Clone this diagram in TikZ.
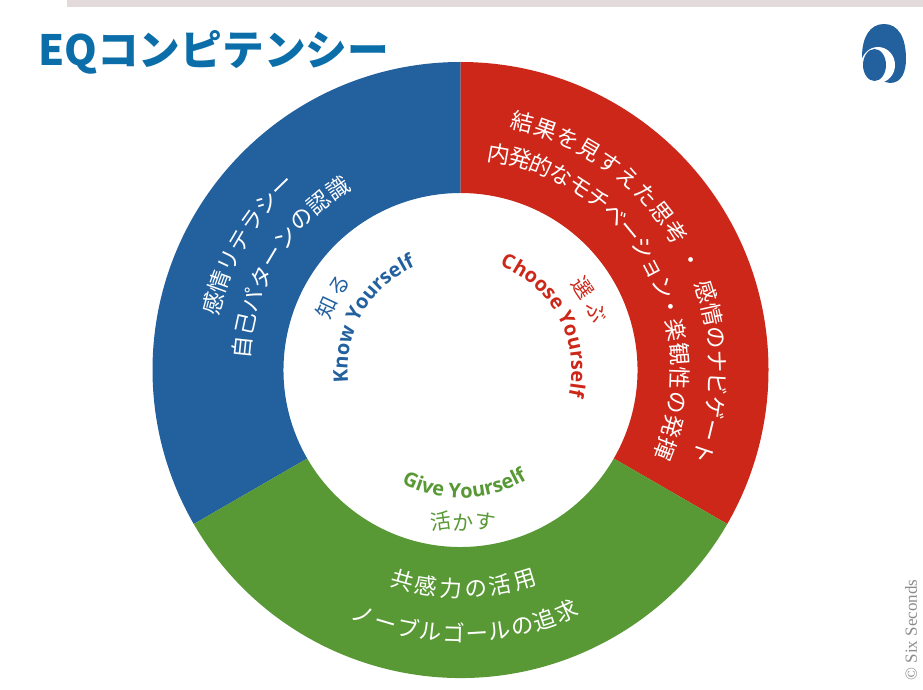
\documentclass[tikz,border=0pt]{standalone}
\usepackage{fontspec}
\usetikzlibrary{decorations.text}
\newfontfamily\jpfont{Noto Sans CJK JP}
\newfontfamily\enfont{Open Sans}
\newfontfamily\markfont{Liberation Serif}
\definecolor{ringblue}{HTML}{22609E}
\definecolor{ringred}{HTML}{CC2718}
\definecolor{ringgreen}{HTML}{589935}
\definecolor{titleblue}{HTML}{0B6EA8}
\definecolor{barpink}{HTML}{E3DADC}
\tikzset{
  ringchar/.style={inner sep=0,text height=18pt,text depth=2pt,font=\jpfont\fontsize{22.5}{26}\selectfont,text=white},
  corechar/.style={ringchar,font=\jpfont\fontsize{21}{25}\selectfont},
}
% one glyph after the other on a circle round (ctr)
\newcommand{\arcchars}[6]{%
  \foreach \ch [count=\n] in {#6} {
    \pgfmathsetmacro\ang{#3+(\n-1)*(#4)}
    \pgfmathsetmacro\turn{\ang+(#5)}
    \node[ringchar,rotate=\turn] (#1-\n) at ([shift={(\ang:#2)}]ctr) {\ch};
  }
}
\begin{document}
\begin{tikzpicture}[x=1pt,y=1pt]
  \useasboundingbox (0,0) rectangle (923,689);
  \coordinate (ctr) at (460.5,319);
  \fill[barpink] (67,682) rectangle (923,689);
  \node[anchor=base west,inner sep=0,text=titleblue,font=\jpfont\bfseries\fontsize{41.7}{48}\selectfont] (title) at (38,623) {EQコンピテンシー};

  % logo
  \fill[ringblue] (862,632) .. controls (862,652) and (870,665) .. (884,665)
     .. controls (898,665) and (906,652) .. (906,630) .. controls (906,618) and (902,606) .. (890,606)
     -- (870,610) -- cycle;
  \fill[white] (878,624) ellipse[x radius=17,y radius=18];
  \fill[ringblue] (874.5,624) ellipse[x radius=11.5,y radius=16];

  % ring
  \fill[ringblue] ([shift={(90:308)}]ctr) arc[start angle=90,end angle=210,radius=308]
     -- ([shift={(210:177)}]ctr) arc[start angle=210,end angle=90,radius=177] -- cycle;
  \fill[ringred] ([shift={(90:308)}]ctr) arc[start angle=90,end angle=-30,radius=308]
     -- ([shift={(-30:177)}]ctr) arc[start angle=-30,end angle=90,radius=177] -- cycle;
  \fill[ringgreen] ([shift={(210:308)}]ctr) arc[start angle=210,end angle=330,radius=308]
     -- ([shift={(330:177)}]ctr) arc[start angle=330,end angle=210,radius=177] -- cycle;

  % red
  \arcchars{redA}{255}{76}{-5.44}{-90}{結,果,を,見,す,え,た,思,考}
  \arcchars{redB}{255}{25.5}{0}{-90}{・}
  \arcchars{redC}{257}{17.6}{-5.2}{-90}{感,情,の,ナ,ビ,ゲ,ー,ト}
  \arcchars{redD}{219}{80}{-5.8}{-90}{内,発,的,な,モ,チ,ベ,ー,シ,ョ,ン}
  \arcchars{redE}{219}{16.7}{0}{-90}{・}
  \arcchars{redF}{219}{10.5}{-6.34}{-90}{楽,観,性,の,発,揮}
  % blue
  \arcchars{blueA}{256}{165}{-5.15}{-90}{感,情,リ,テ,ラ,シ,ー}
  \arcchars{blueB}{219}{174}{-6.25}{-90}{自,己,パ,タ,ー,ン,の,認,識}
  % green
  \arcchars{greenA}{219}{-105.5}{6.5}{90}{共,感,力,の,活,用}
  \arcchars{greenB}{264}{-111.6}{5.03}{90}{ノ,ー,ブ,ル,ゴ,ー,ル,の,追,求}

  % core
  \node[corechar,rotate=65,text=ringblue] (knowA) at ([shift={(155:148)}]ctr) {知};
  \node[corechar,rotate=55,text=ringblue] (knowB) at ([shift={(145:148)}]ctr) {る};
  \node[corechar,rotate=-56,text=ringred] (chooseA) at ([shift={(34:148)}]ctr) {選};
  \node[corechar,rotate=-67,text=ringred] (chooseB) at ([shift={(23:148)}]ctr) {ぶ};
  \node[corechar,rotate=7.5,text=ringgreen] (giveA) at ([shift={(-97.5:153)}]ctr) {活};
  \node[corechar,rotate=-1,text=ringgreen] (giveB) at ([shift={(-89:153)}]ctr) {か};
  \node[corechar,rotate=-9.4,text=ringgreen] (giveC) at ([shift={(-80.6:153)}]ctr) {す};

  \path[decorate,decoration={text along path,text align=center,text color=ringblue,
      text={|\enfont\bfseries\fontsize{20}{24}\selectfont|Know Yourself}}]
     ([shift={(215:113)}]ctr) arc[start angle=215,end angle=85,radius=113];
  \path[decorate,decoration={text along path,text align=center,text color=ringred,
      text={|\enfont\bfseries\fontsize{20}{24}\selectfont|Choose Yourself}}]
     ([shift={(93:111)}]ctr) arc[start angle=93,end angle=-37,radius=111];
  \path[decorate,decoration={text along path,text align=center,text color=ringgreen,
      text={|\enfont\bfseries\fontsize{20}{24}\selectfont|Give Yourself}}]
     ([shift={(207:128)}]ctr) arc[start angle=207,end angle=337,radius=128];

  \node[rotate=90,inner sep=0,text=black!45,font=\markfont\fontsize{17}{20}\selectfont] (mark) at (911,59) {© Six Seconds};
\end{tikzpicture}
\end{document}
